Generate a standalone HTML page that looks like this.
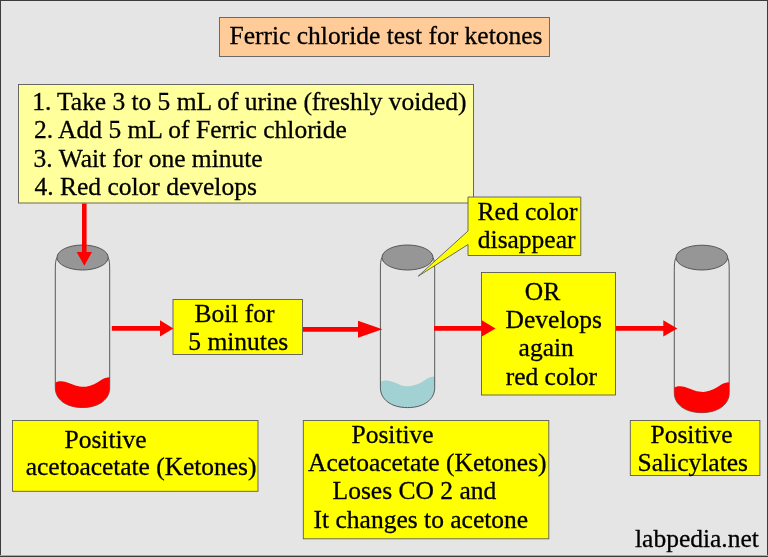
<!DOCTYPE html>
<html>
<head>
<meta charset="utf-8">
<title>Ferric chloride test for ketones</title>
<style>
html,body{margin:0;padding:0;background:#e5e5e5;}
body{width:768px;height:557px;overflow:hidden;position:relative;font-family:"Liberation Serif",serif;}
svg{position:absolute;left:0;top:0;display:block;will-change:transform;}
text{font-family:"Liberation Serif",serif;font-size:25.5px;fill:#000;white-space:pre;stroke:#000;stroke-width:0.3px;}
</style>
</head>
<body>
<svg width="768" height="557" viewBox="0 0 768 557">
  <rect x="0" y="0" width="768" height="557" fill="#e5e5e5"/>

  <!-- title -->
  <rect x="219.5" y="17.5" width="330" height="39" fill="#ffcc99" stroke="#6a6a6a" stroke-width="1"/>
  <text x="229.5" y="43.8">Ferric chloride test for ketones</text>

  <!-- steps box -->
  <rect x="18.5" y="84.5" width="455" height="118.5" fill="#ffff9c" stroke="#5a5a5a" stroke-width="0.9"/>
  <text x="32.2" y="110" textLength="434.2" lengthAdjust="spacing">1. Take 3 to 5 mL of urine (freshly voided)</text>
  <text x="34" y="137.8">2. Add 5 mL of Ferric chloride</text>
  <text x="33.6" y="167">3. Wait for one minute</text>
  <text x="34.5" y="195">4. Red color develops</text>

  <!-- tube 1 -->
  <g id="tube1">
    <path d="M57,257.5 C55.6,260.0 55.3,264.0 55.3,270.0 L55.3,387.5 C55.3,399.5 66.18,407.5 82.5,407.5 C98.82,407.5 109.7,399.5 109.7,387.5 L109.7,270.0 C109.7,264.0 109.4,260.0 108.2,257.5" fill="none" stroke="#4a4a4a" stroke-width="0.9"/>
    <ellipse cx="82.6" cy="257.5" rx="25.6" ry="12.5" fill="#969696" stroke="#4a4a4a" stroke-width="0.9"/>
    <path d="M55.3,382.7 C57.1,381.5 59.3,381.1 61.3,381.2 C66.3,381.5 71.3,384.2 75.3,385.5 C78.3,386.5 81.3,386.8 83.8,386.8 C89.3,386.8 95.3,384.0 99.3,381.2 C102.3,379.0 105.3,377.4 108.9,377.2 L109.7,377.2 L109.7,387.5 C109.7,399.5 98.82,407.5 82.5,407.5 C66.18,407.5 55.3,399.5 55.3,387.5 Z" fill="#ff0000"/>
  </g>

  <!-- tube 2 -->
  <g id="tube2">
    <path d="M380.4,382.1 C382.2,380.9 384.39,380.5 386.39,380.6 C391.38,380.9 396.37,383.6 400.36,384.9 C403.36,385.9 406.35,386.2 408.85,386.2 C414.34,386.2 420.33,383.4 424.32,380.6 C427.31,378.4 430.31,376.8 433.9,376.6 L434.7,376.6 L434.7,387.6 C434.7,399.6 423.84,407.6 407.55,407.6 C391.26,407.6 380.4,399.6 380.4,387.6 Z" fill="#a2d1d3"/>
    <path d="M382,257.5 C380.6,260.0 380.4,264.0 380.4,270.0 L380.4,387.6 C380.4,399.6 391.26,407.6 407.55,407.6 C423.84,407.6 434.7,399.6 434.7,387.6 L434.7,270.0 C434.7,264.0 434.2,260.0 433,257.5" fill="none" stroke="#4a4a4a" stroke-width="0.9"/>
    <ellipse cx="407.5" cy="257.5" rx="25.5" ry="12.5" fill="#969696" stroke="#4a4a4a" stroke-width="0.9"/>
  </g>

  <!-- tube 3 -->
  <g id="tube3">
    <path d="M676,257.7 C674.6,260.2 674.3,264.2 674.3,270.2 L674.3,392.6 C674.3,404.6 685.28,412.6 701.75,412.6 C718.22,412.6 729.2,404.6 729.2,392.6 L729.2,270.2 C729.2,264.2 728.9,260.2 727.7,257.7" fill="none" stroke="#4a4a4a" stroke-width="0.9"/>
    <ellipse cx="701.8" cy="257.6" rx="25.8" ry="12.4" fill="#969696" stroke="#4a4a4a" stroke-width="0.9"/>
    <path d="M674.3,387.8 C676.12,386.6 678.34,386.2 680.36,386.3 C685.4,386.6 690.45,389.3 694.48,390.6 C697.51,391.6 700.54,391.9 703.06,391.9 C708.61,391.9 714.67,389.1 718.7,386.3 C721.73,384.1 724.76,382.5 728.39,382.3 L729.2,382.3 L729.2,392.6 C729.2,404.6 718.22,412.6 701.75,412.6 C685.28,412.6 674.3,404.6 674.3,392.6 Z" fill="#ff0000"/>
  </g>

  <!-- callout -->
  <path d="M468,197 L580.8,197 L580.8,255.5 L468,255.5 L468,244.5 L418.2,276.2 L468,231 Z" fill="#ffff00" stroke="#5a5a5a" stroke-width="0.9" stroke-linejoin="miter"/>
  <text x="477.6" y="220">Red color</text>
  <text x="477.8" y="248">disappear</text>

  <!-- boil box -->
  <rect x="173" y="299.5" width="129.5" height="55" fill="#ffff00" stroke="#5a5a5a" stroke-width="0.9"/>
  <text x="194.5" y="321.8">Boil for</text>
  <text x="188.3" y="349.5">5 minutes</text>

  <!-- OR box -->
  <rect x="481.5" y="272.5" width="134" height="122.5" fill="#ffff00" stroke="#5a5a5a" stroke-width="0.9"/>
  <text x="524.8" y="299.5">OR</text>
  <text x="505.6" y="328">Develops</text>
  <text x="518.6" y="356.2">again</text>
  <text x="505.7" y="384.5">red color</text>

  <!-- arrows -->
  <g fill="#ff0000" stroke="none">
    <!-- down arrow -->
    <path d="M82,203.5 L86.6,203.5 L86.6,252 L92,252 L84.3,265.8 L76.7,252 L82,252 Z"/>
    <!-- arrow 1 -->
    <path d="M111.8,326.1 L160,326.1 L160,320.3 L173.4,328.4 L160,336.4 L160,330.8 L111.8,330.8 Z"/>
    <!-- arrow 2 -->
    <path d="M303,327 L358,327 L358,320.7 L382.4,329.3 L358,337.8 L358,331.7 L303,331.7 Z"/>
    <!-- arrow 3 -->
    <path d="M434,326.1 L481.8,326.1 L481.8,320.3 L495.5,328.4 L481.8,336.4 L481.8,330.8 L434,330.8 Z"/>
    <!-- arrow 4 -->
    <path d="M616,326.1 L663.3,326.1 L663.3,320.3 L677.3,328.4 L663.3,336.4 L663.3,330.8 L616,330.8 Z"/>
  </g>

  <!-- bottom boxes -->
  <rect x="12.5" y="420.5" width="245.5" height="70.8" fill="#ffff00" stroke="#5a5a5a" stroke-width="0.9"/>
  <text x="64.5" y="447.5">Positive</text>
  <text x="25.8" y="475" textLength="230.6" lengthAdjust="spacing">acetoacetate (Ketones)</text>

  <rect x="303.3" y="420.5" width="245.5" height="118.3" fill="#ffff00" stroke="#5a5a5a" stroke-width="0.9"/>
  <text x="351.5" y="442.5">Positive</text>
  <text x="308" y="471.2">Acetoacetate (Ketones)</text>
  <text x="332.6" y="499.3">Loses CO 2 and</text>
  <text x="313.6" y="527.5">It changes to acetone</text>

  <rect x="630.3" y="420.5" width="129.6" height="55" fill="#ffff00" stroke="#5a5a5a" stroke-width="0.9"/>
  <text x="650.5" y="442.5">Positive</text>
  <text x="637.5" y="470.8">Salicylates</text>

  <text x="635" y="547.4">labpedia.net</text>

  <!-- outer border -->
  <rect x="0.5" y="0.5" width="767" height="556" fill="none" stroke="#3c3c3c" stroke-width="1"/>
    <line x1="0" y1="555.5" x2="768" y2="555.5" stroke="#a8a8a8" stroke-width="1"/>
</svg>
</body>
</html>
